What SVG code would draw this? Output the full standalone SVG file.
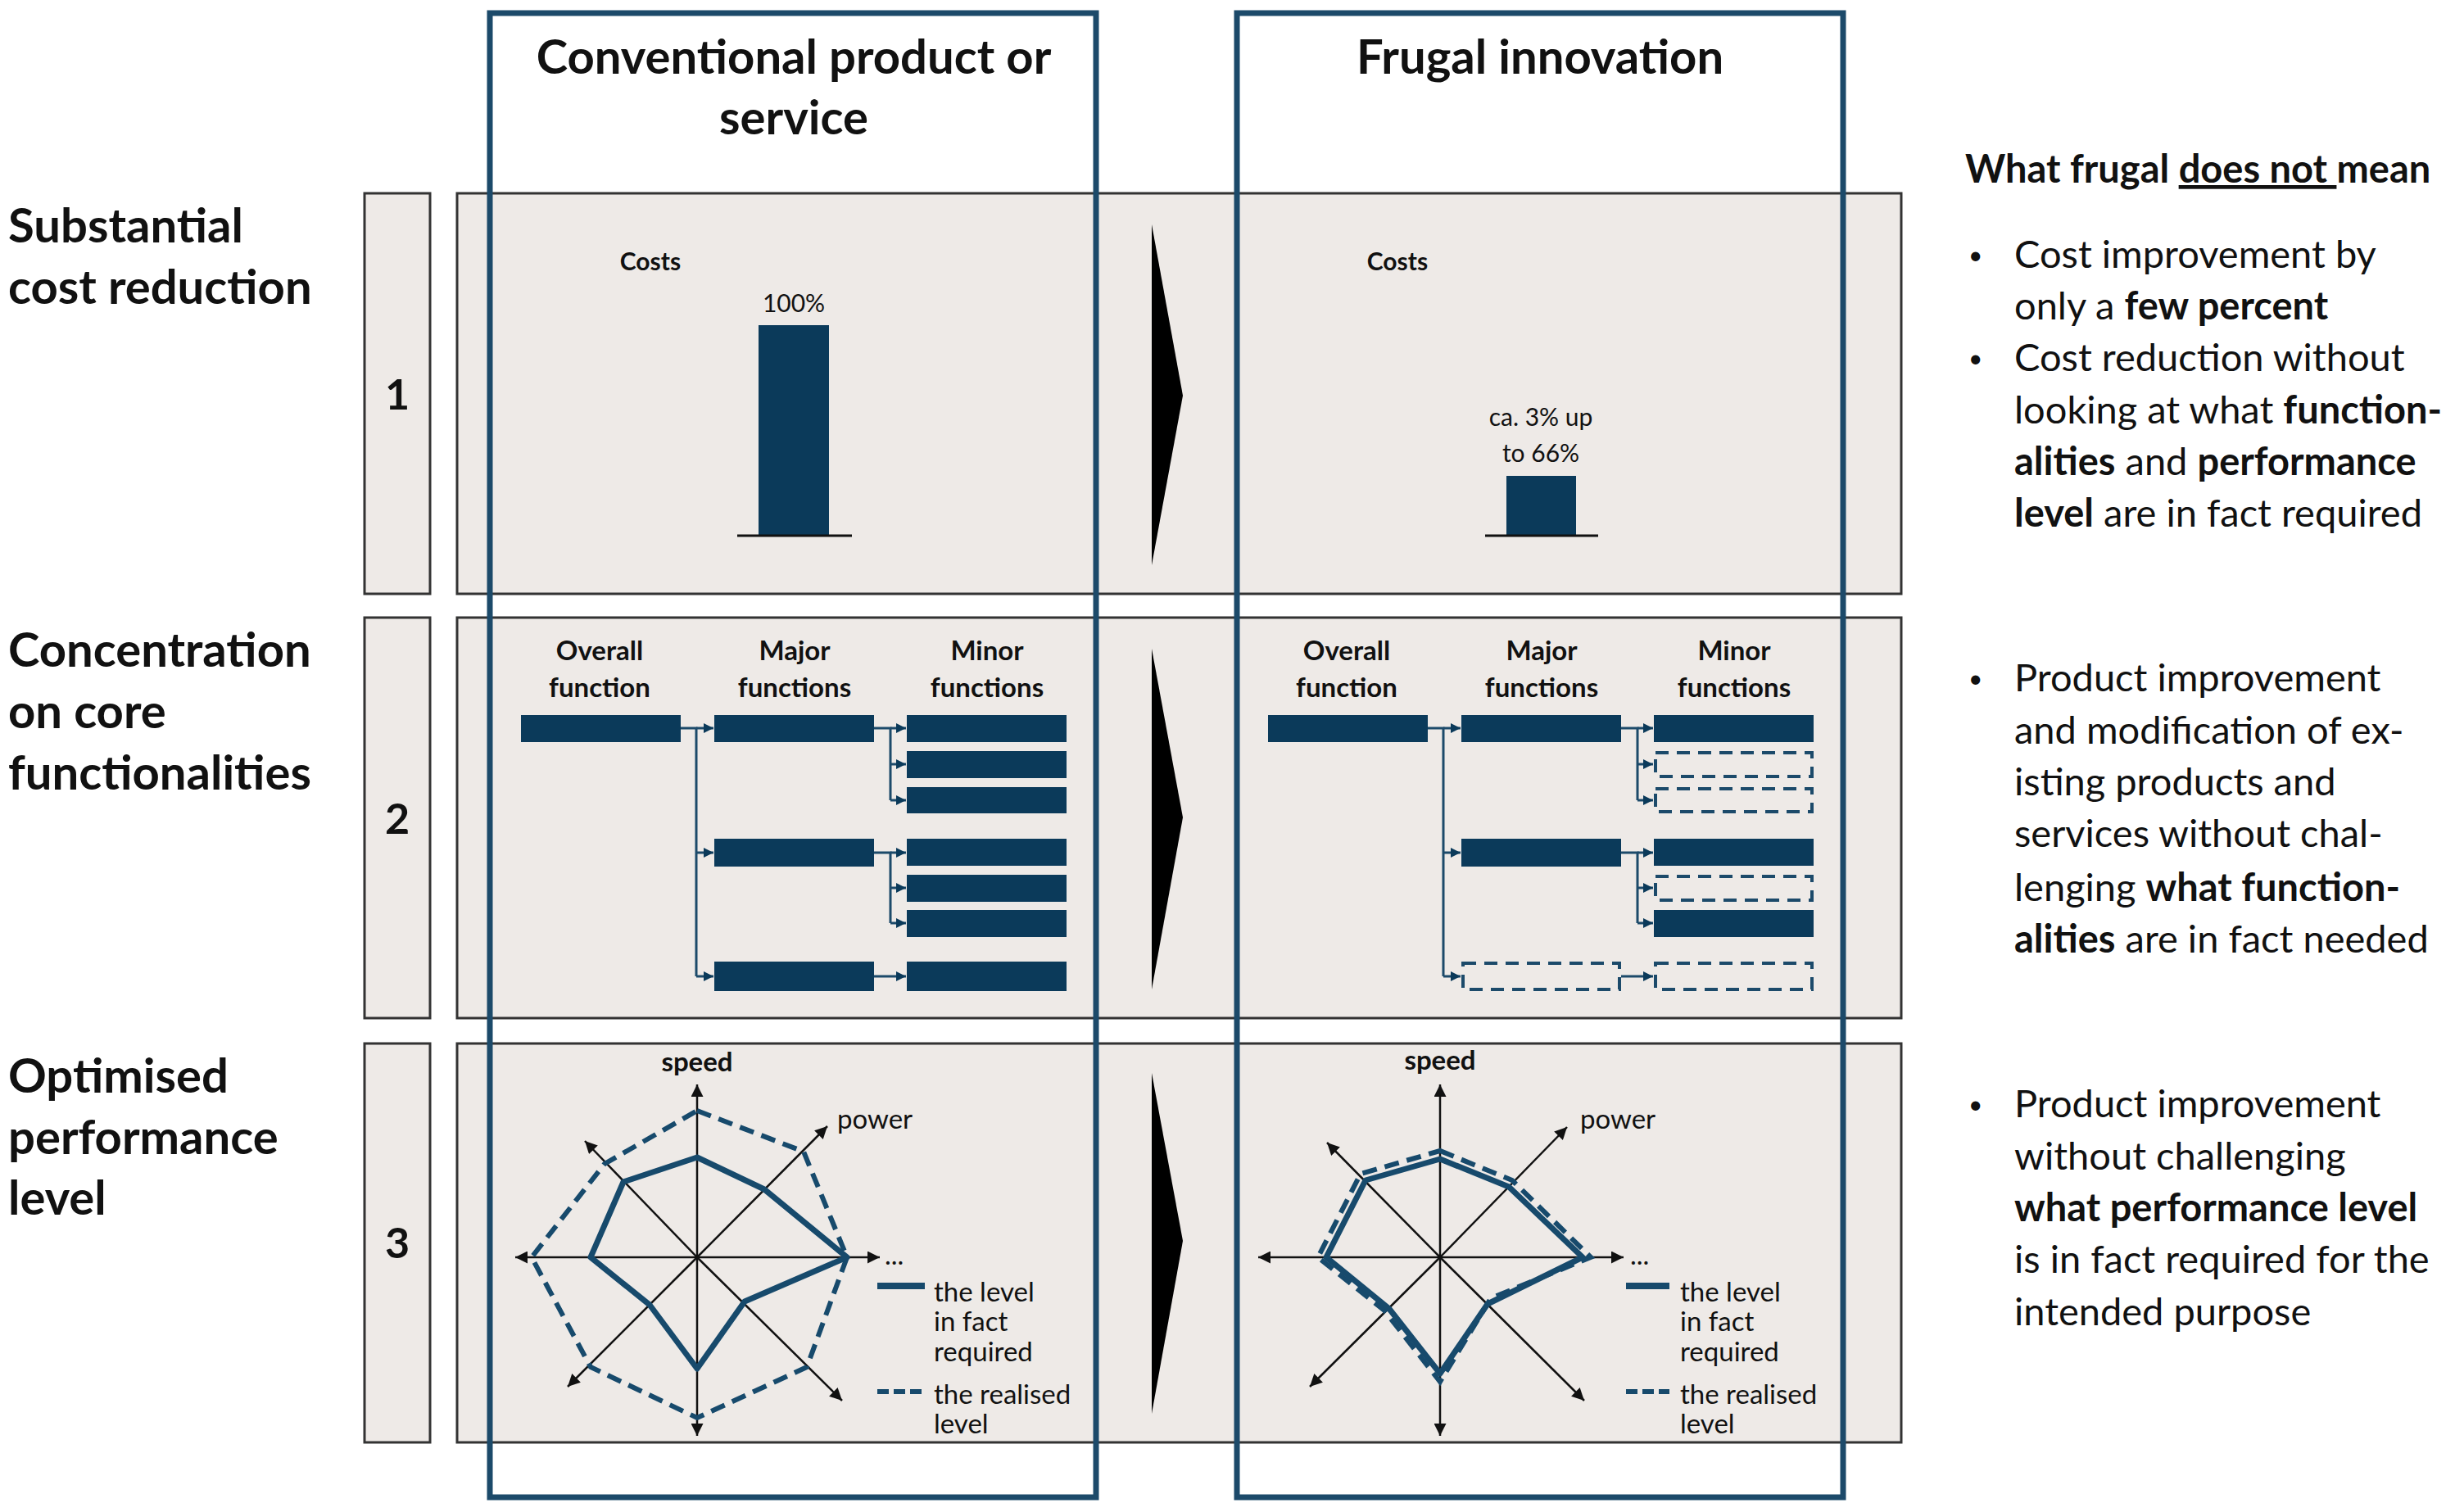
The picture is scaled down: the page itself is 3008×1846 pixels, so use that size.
<svg xmlns="http://www.w3.org/2000/svg" width="3008" height="1846" viewBox="0 0 3008 1846">
<style>
text{font-family:Lato,"Liberation Sans",sans-serif;fill:#111}
.b{font-weight:bold}
.row{fill:#eeeae7;stroke:#333;stroke-width:3}
.col{fill:none;stroke:#1c4a6a;stroke-width:7}
.fb{fill:#0b3a5a}
.fd{fill:none;stroke:#1c4a6a;stroke-width:4;stroke-dasharray:16,10}
.cn{stroke:#1c4a6a;stroke-width:3;fill:none}
.ax{stroke:#111;stroke-width:2.5;fill:none}
.req{fill:none;stroke:#174a6c;stroke-width:7;stroke-linejoin:round}
.rea{fill:none;stroke:#174a6c;stroke-width:6;stroke-dasharray:18,10}
.rt{font-size:47px}
.bu{font-size:30px}
.lb{font-size:58px;font-weight:bold}
.sm{font-size:33px}
</style>
<defs>
<marker id="a" viewBox="0 0 10 10" refX="10" refY="5" markerWidth="4" markerHeight="4" orient="auto"><path d="M0,0L10,5L0,10z" fill="#0b3a5a"/></marker>
<marker id="k" viewBox="0 0 10 10" refX="10" refY="5" markerWidth="6" markerHeight="6" orient="auto"><path d="M0,0L10,5L0,10z" fill="#111"/></marker>
</defs>
<rect width="3008" height="1846" fill="#fff"/>
<g id="rows">
<rect class="row" x="445" y="236" width="80" height="489"/><rect class="row" x="558" y="236" width="1763" height="489"/>
<rect class="row" x="445" y="754" width="80" height="489"/><rect class="row" x="558" y="754" width="1763" height="489"/>
<rect class="row" x="445" y="1274" width="80" height="487"/><rect class="row" x="558" y="1274" width="1763" height="487"/>
<text class="b" x="485" y="500" font-size="52" text-anchor="middle">1</text>
<text class="b" x="485" y="1018" font-size="52" text-anchor="middle">2</text>
<text class="b" x="485" y="1536" font-size="52" text-anchor="middle">3</text>
</g>
<g id="labels">
<text class="lb" x="10" y="296">Substantial</text><text class="lb" x="10" y="371">cost reduction</text>
<text class="lb" x="10" y="814">Concentration</text><text class="lb" x="10" y="889">on core</text><text class="lb" x="10" y="964">functionalities</text>
<text class="lb" x="10" y="1334">Optimised</text><text class="lb" x="10" y="1409">performance</text><text class="lb" x="10" y="1483">level</text>
</g>
<g id="arrows">
<path d="M1406,274L1444,483L1406,690z" fill="#000"/>
<path d="M1406,792L1444,998L1406,1208z" fill="#000"/>
<path d="M1406,1310L1444,1515L1406,1726z" fill="#000"/>
</g>
<g id="costs">
<text class="b" x="794" y="330" font-size="30" text-anchor="middle">Costs</text>
<text x="969" y="381" font-size="30" text-anchor="middle">100%</text>
<rect class="fb" x="926" y="397" width="86" height="257"/>
<line x1="900" y1="654" x2="1040" y2="654" stroke="#111" stroke-width="3"/>
<text class="b" x="1706" y="330" font-size="30" text-anchor="middle">Costs</text>
<text x="1881" y="520" font-size="30" text-anchor="middle">ca. 3% up</text>
<text x="1881" y="564" font-size="30" text-anchor="middle">to 66%</text>
<rect class="fb" x="1839" y="581" width="85" height="73"/>
<line x1="1813" y1="654" x2="1951" y2="654" stroke="#111" stroke-width="3"/>
</g>
<g id="functions-left">
<text class="b sm" x="732" y="806" text-anchor="middle">Overall</text><text class="b sm" x="732" y="851" text-anchor="middle">function</text>
<text class="b sm" x="970" y="806" text-anchor="middle">Major</text><text class="b sm" x="970" y="851" text-anchor="middle">functions</text>
<text class="b sm" x="1205" y="806" text-anchor="middle">Minor</text><text class="b sm" x="1205" y="851" text-anchor="middle">functions</text>
<rect class="fb" x="636" y="873" width="195" height="33"/>
<rect class="fb" x="872" y="873" width="195" height="33"/><rect class="fb" x="872" y="1024" width="195" height="34"/><rect class="fb" x="872" y="1174" width="195" height="36"/>
<rect class="fb" x="1107" y="873" width="195" height="33"/><rect class="fb" x="1107" y="917" width="195" height="33"/><rect class="fb" x="1107" y="961" width="195" height="32"/>
<rect class="fb" x="1107" y="1024" width="195" height="33"/><rect class="fb" x="1107" y="1068" width="195" height="33"/><rect class="fb" x="1107" y="1111" width="195" height="33"/>
<rect class="fb" x="1107" y="1174" width="195" height="36"/>
</g>
<g id="functions-right">
<text class="b sm" x="1644" y="806" text-anchor="middle">Overall</text><text class="b sm" x="1644" y="851" text-anchor="middle">function</text>
<text class="b sm" x="1882" y="806" text-anchor="middle">Major</text><text class="b sm" x="1882" y="851" text-anchor="middle">functions</text>
<text class="b sm" x="2117" y="806" text-anchor="middle">Minor</text><text class="b sm" x="2117" y="851" text-anchor="middle">functions</text>
<rect class="fb" x="1548" y="873" width="195" height="33"/>
<rect class="fb" x="1784" y="873" width="195" height="33"/><rect class="fb" x="1784" y="1024" width="195" height="34"/><rect class="fd" x="1786" y="1176" width="191" height="32"/>
<rect class="fb" x="2019" y="873" width="195" height="33"/><rect class="fd" x="2021" y="919" width="191" height="29"/><rect class="fd" x="2021" y="963" width="191" height="28"/>
<rect class="fb" x="2019" y="1024" width="195" height="33"/><rect class="fd" x="2021" y="1070" width="191" height="29"/><rect class="fb" x="2019" y="1111" width="195" height="33"/>
<rect class="fd" x="2021" y="1176" width="191" height="32"/>
</g>
<g id="connectors">
<path class="cn" d="M831,889H850V1192"/>
<path class="cn" d="M850,889H871" marker-end="url(#a)"/><path class="cn" d="M850,1041H871" marker-end="url(#a)"/><path class="cn" d="M850,1192H871" marker-end="url(#a)"/>
<path class="cn" d="M1067,889H1087V977"/><path class="cn" d="M1087,889H1106" marker-end="url(#a)"/><path class="cn" d="M1087,933H1106" marker-end="url(#a)"/><path class="cn" d="M1087,977H1106" marker-end="url(#a)"/>
<path class="cn" d="M1067,1041H1087V1127"/><path class="cn" d="M1087,1041H1106" marker-end="url(#a)"/><path class="cn" d="M1087,1084H1106" marker-end="url(#a)"/><path class="cn" d="M1087,1127H1106" marker-end="url(#a)"/>
<path class="cn" d="M1067,1192H1106" marker-end="url(#a)"/>
<path class="cn" d="M1743,889H1762V1192"/>
<path class="cn" d="M1762,889H1783" marker-end="url(#a)"/><path class="cn" d="M1762,1041H1783" marker-end="url(#a)"/><path class="cn" d="M1762,1192H1783" marker-end="url(#a)"/>
<path class="cn" d="M1979,889H1999V977"/><path class="cn" d="M1999,889H2018" marker-end="url(#a)"/><path class="cn" d="M1999,933H2018" marker-end="url(#a)"/><path class="cn" d="M1999,977H2018" marker-end="url(#a)"/>
<path class="cn" d="M1979,1041H1999V1127"/><path class="cn" d="M1999,1041H2018" marker-end="url(#a)"/><path class="cn" d="M1999,1084H2018" marker-end="url(#a)"/><path class="cn" d="M1999,1127H2018" marker-end="url(#a)"/>
<path class="cn" d="M1979,1192H2018" marker-end="url(#a)"/>
</g>
<g id="radar-left">
<g class="ax" marker-end="url(#k)">
<line x1="851" y1="1535" x2="851" y2="1324"/><line x1="851" y1="1535" x2="851" y2="1753"/>
<line x1="851" y1="1535" x2="629" y2="1535"/><line x1="851" y1="1535" x2="1074" y2="1535"/>
<line x1="851" y1="1535" x2="1010" y2="1375"/><line x1="851" y1="1535" x2="714" y2="1393"/>
<line x1="851" y1="1535" x2="693" y2="1693"/><line x1="851" y1="1535" x2="1028" y2="1710"/>
</g>
<polygon class="rea" points="851,1356 981,1406 1034,1535 985,1669 851,1731 721,1669 649,1535 738,1421"/>
<polygon class="req" points="851,1413 933,1452 1034,1535 909,1589 851,1671 793,1593 721,1535 761,1443"/>
<text class="sm" x="851" y="1308" text-anchor="middle" font-weight="bold">speed</text>
<text class="sm" x="1022" y="1378">power</text>
<text class="sm" x="1080" y="1544">...</text>
<line x1="1071" y1="1570" x2="1129" y2="1570" stroke="#174a6c" stroke-width="8"/>
<text class="sm" x="1140" y="1589">the level</text><text class="sm" x="1140" y="1625">in fact</text><text class="sm" x="1140" y="1662">required</text>
<line x1="1071" y1="1699" x2="1129" y2="1699" stroke="#174a6c" stroke-width="6" stroke-dasharray="14,6"/>
<text class="sm" x="1140" y="1714">the realised</text><text class="sm" x="1140" y="1750">level</text>
</g>
<g id="radar-right">
<g class="ax" marker-end="url(#k)">
<line x1="1758" y1="1535" x2="1758" y2="1324"/><line x1="1758" y1="1535" x2="1758" y2="1753"/>
<line x1="1758" y1="1535" x2="1536" y2="1535"/><line x1="1758" y1="1535" x2="1982" y2="1535"/>
<line x1="1758" y1="1535" x2="1913" y2="1376"/><line x1="1758" y1="1535" x2="1620" y2="1395"/>
<line x1="1758" y1="1535" x2="1599" y2="1693"/><line x1="1758" y1="1535" x2="1934" y2="1710"/>
</g>
<polygon class="rea" points="1758,1405 1846,1441 1942,1535 1820,1585 1758,1687 1690,1600 1609,1535 1661,1433"/>
<polygon class="req" points="1758,1415 1842,1449 1932,1535 1816,1592 1758,1677 1696,1598 1619,1535 1667,1441"/>
<text class="sm" x="1758" y="1306" text-anchor="middle" font-weight="bold">speed</text>
<text class="sm" x="1929" y="1378">power</text>
<text class="sm" x="1990" y="1544">...</text>
<line x1="1985" y1="1570" x2="2038" y2="1570" stroke="#174a6c" stroke-width="8"/>
<text class="sm" x="2051" y="1589">the level</text><text class="sm" x="2051" y="1625">in fact</text><text class="sm" x="2051" y="1662">required</text>
<line x1="1985" y1="1699" x2="2038" y2="1699" stroke="#174a6c" stroke-width="6" stroke-dasharray="14,6"/>
<text class="sm" x="2051" y="1714">the realised</text><text class="sm" x="2051" y="1750">level</text>
</g>
<g id="columns">
<rect class="col" x="598" y="16" width="740" height="1812"/>
<rect class="col" x="1510" y="16" width="740" height="1812"/>
<text class="lb" x="969" y="90" text-anchor="middle">Conventional product or</text>
<text class="lb" x="969" y="164" text-anchor="middle">service</text>
<text class="lb" x="1880" y="90" text-anchor="middle">Frugal innovation</text>
</g>
<g id="notes">
<text class="rt b" x="2399" y="223">What frugal <tspan text-decoration="underline">does not </tspan>mean</text>
<text class="bu" x="2403" y="322">•</text><text class="rt" x="2459" y="327">Cost improvement by</text>
<text class="rt" x="2459" y="390">only a <tspan class="b">few percent</tspan></text>
<text class="bu" x="2403" y="448">•</text><text class="rt" x="2459" y="453">Cost reduction without</text>
<text class="rt" x="2459" y="517">looking at what <tspan class="b">function-</tspan></text>
<text class="rt" x="2459" y="580"><tspan class="b">alities</tspan> and <tspan class="b">performance</tspan></text>
<text class="rt" x="2459" y="643"><tspan class="b">level</tspan> are in fact required</text>
<text class="bu" x="2403" y="839">•</text><text class="rt" x="2459" y="844">Product improvement</text>
<text class="rt" x="2459" y="908">and modification of ex-</text>
<text class="rt" x="2459" y="971">isting products and</text>
<text class="rt" x="2459" y="1034">services without chal-</text>
<text class="rt" x="2459" y="1100">lenging <tspan class="b">what function-</tspan></text>
<text class="rt" x="2459" y="1163"><tspan class="b">alities</tspan> are in fact needed</text>
<text class="bu" x="2403" y="1359">•</text><text class="rt" x="2459" y="1364">Product improvement</text>
<text class="rt" x="2459" y="1428">without challenging</text>
<text class="rt b" x="2459" y="1491">what performance level</text>
<text class="rt" x="2459" y="1554">is in fact required for the</text>
<text class="rt" x="2459" y="1618">intended purpose</text>
</g>
</svg>
